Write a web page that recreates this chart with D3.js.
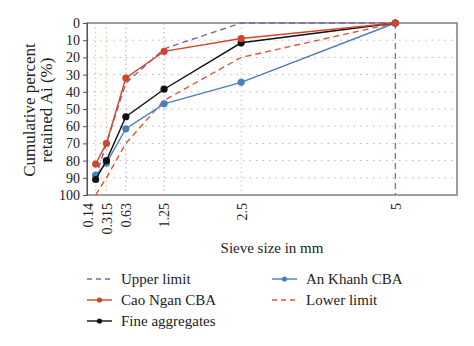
<!DOCTYPE html>
<html><head><meta charset="utf-8">
<script src="https://cdn.jsdelivr.net/npm/d3@7"></script>
<style>body{margin:0;background:#fff}svg{display:block}svg text{font-family:"Liberation Serif","Times New Roman",serif !important;fill:#222}</style>
</head><body>
<script>
const sieves = [0.14, 0.315, 0.63, 1.25, 2.5, 5];
const sieveLabels = ["0.14", "0.315", "0.63", "1.25", "2.5", "5"];
const yTicks = [0,10,20,30,40,50,60,70,80,90,100];
const upperLimit = [90, 70, 35, 15, 0, 0];
const caoNgan = [82, 70, 32, 16.5, 9, 0];
const fineAgg = [91, 80, 54.5, 38.5, 11.5, 0];
const anKhanh = [88.5, 81.5, 61.5, 47, 34.5, 0];
const lowerLimit = [100, 90, 70, 45, 20, 0];
const seriesNames = ["Upper limit", "Cao Ngan CBA", "Fine aggregates", "An Khanh CBA", "Lower limit"];

const FONT = "Liberation Serif";
const W = 474, H = 346;
const m = {l: 87, r: 457, t: 23, b: 195};
const svg = d3.select("body").append("svg").attr("width", W).attr("height", H).attr("font-family", FONT);
const x = d3.scaleLinear().domain([0, 6]).range([m.l, m.r]);
const y = d3.scaleLinear().domain([0, 100]).range([m.t, m.b]);

// horizontal grid
svg.append("g").selectAll("line").data(yTicks.slice(1, -1)).join("line")
  .attr("x1", m.l).attr("x2", m.r).attr("y1", d => y(d)).attr("y2", d => y(d))
  .attr("stroke", "#b8b8b8").attr("stroke-width", 1).attr("stroke-dasharray", "1.5,5");
// vertical grid
const vcol = ["#d8c878", "#d8c878", "#9fb0c8", "#9fb0c8", "#d8c878"];
svg.append("g").selectAll("line").data(sieves.slice(0, 5)).join("line")
  .attr("x1", d => x(d)).attr("x2", d => x(d)).attr("y1", m.t).attr("y2", m.b)
  .attr("stroke", (d, i) => vcol[i]).attr("stroke-width", 1).attr("stroke-dasharray", "1.5,3");
// vertical red dashed at 5
svg.append("line").attr("x1", x(5)).attr("x2", x(5)).attr("y1", y(0)).attr("y2", y(100))
  .attr("stroke", "#c0504d").attr("stroke-width", 1.2).attr("stroke-dasharray", "6,4");

// border
svg.append("rect").attr("x", m.l).attr("y", m.t).attr("width", m.r - m.l).attr("height", m.b - m.t)
  .attr("fill", "none").attr("stroke", "#7f7f7f").attr("stroke-width", 1.5);

// y axis
const yAxis = svg.append("g").attr("transform", `translate(${m.l},0)`)
  .call(d3.axisLeft(y).tickValues(yTicks).tickSize(4).tickPadding(3));
yAxis.attr("font-family", FONT);
yAxis.select(".domain").attr("stroke", "#555");
yAxis.selectAll(".tick line").attr("stroke", "#555");
yAxis.selectAll("text").attr("font-family", FONT).style("font-size", "14px").attr("fill", "#222");

// x axis
const xAxis = svg.append("g").attr("transform", `translate(0,${m.b})`)
  .call(d3.axisBottom(x).tickValues(sieves).tickFormat((d, i) => sieveLabels[i]).tickSize(0));
xAxis.attr("font-family", FONT);
xAxis.select(".domain").remove();
xAxis.selectAll("text").attr("font-family", FONT).style("font-size", "14px").attr("fill", "#222")
  .attr("transform", "rotate(-90)").attr("text-anchor", "end").attr("dy", "0.35em").attr("x", -8)
  .attr("y", (d, i) => i === 0 ? -8 : 0);

// lines
const data = [
  {name: seriesNames[0], vals: upperLimit, color: "#8064a2", dash: "6,4", marker: false},
  {name: seriesNames[4], vals: lowerLimit, color: "#e0553a", dash: "6,4", marker: false},
  {name: seriesNames[3], vals: anKhanh, color: "#4a7ebb", dash: null, marker: true},
  {name: seriesNames[2], vals: fineAgg, color: "#111", dash: null, marker: true},
  {name: seriesNames[1], vals: caoNgan, color: "#d2452c", dash: null, marker: true},
];
const line = d3.line().x(d => x(d[0])).y(d => y(d[1]));
data.forEach(s => {
  const pts = sieves.map((v, i) => [v, s.vals[i]]);
  svg.append("path").datum(pts).attr("d", line).attr("fill", "none")
    .attr("stroke", s.color).attr("stroke-width", 1.4).attr("stroke-dasharray", s.dash);
  if (s.marker) {
    svg.append("g").selectAll("circle").data(pts).join("circle")
      .attr("cx", d => x(d[0])).attr("cy", d => y(d[1])).attr("r", 3.6).attr("fill", s.color);
  }
});

// axis titles
svg.append("text").attr("x", 272).attr("y", 253).attr("text-anchor", "middle").style("font-size", "15px").text("Sieve size in mm");
const yt = svg.append("text").attr("transform", "translate(0,110) rotate(-90)").attr("text-anchor", "middle").style("font-size", "17px");
yt.append("tspan").attr("x", 0).attr("y", 35).text("Cumulative percent");
yt.append("tspan").attr("x", 0).attr("y", 52).text("retained Ai (%)");

// legend
const leg = [
  {name: seriesNames[0], color: "#8064a2", dash: "5,4", marker: false, lx: 87, ly: 279},
  {name: seriesNames[1], color: "#d2452c", dash: null, marker: true, lx: 87, ly: 300},
  {name: seriesNames[2], color: "#111", dash: null, marker: true, lx: 87, ly: 321},
  {name: seriesNames[3], color: "#4a7ebb", dash: null, marker: true, lx: 272, ly: 279},
  {name: seriesNames[4], color: "#e0553a", dash: "5,4", marker: false, lx: 272, ly: 300},
];
const lg = svg.append("g").selectAll("g").data(leg).join("g").attr("transform", d => `translate(${d.lx},${d.ly})`);
lg.append("line").attr("x1", 0).attr("x2", 25).attr("y1", 0).attr("y2", 0)
  .attr("stroke", d => d.color).attr("stroke-width", 1.4).attr("stroke-dasharray", d => d.dash);
lg.filter(d => d.marker).append("circle").attr("cx", 12.5).attr("cy", 0).attr("r", 2.6).attr("fill", d => d.color);
lg.append("text").attr("x", 34).attr("y", 0).attr("dy", "0.35em").style("font-size", "15px").text(d => d.name);
</script>
</body></html>
